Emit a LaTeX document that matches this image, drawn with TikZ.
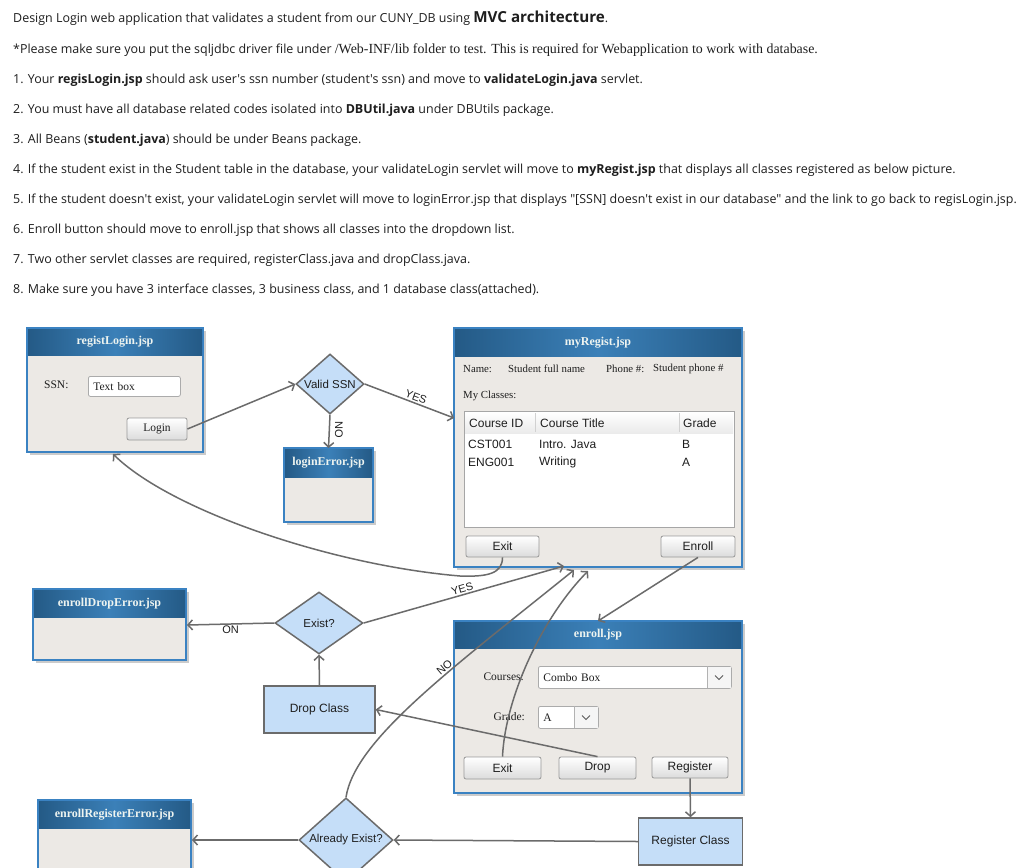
\documentclass[tikz,border=0pt]{standalone}
\usepackage{fontspec}
\setmainfont{Liberation Serif}
\newfontfamily\osans{Open Sans}
\newfontfamily\arialf{Liberation Sans}
\usetikzlibrary{arrows.meta,shadows,shapes.geometric,calc}
\definecolor{winborder}{HTML}{3A82C2}
\definecolor{hdark}{HTML}{245A86}
\definecolor{hmid}{HTML}{3B80B8}
\definecolor{winbody}{HTML}{ECE9E5}
\definecolor{dfill}{HTML}{C5DEF8}
\definecolor{conn}{HTML}{6B6B6B}
\definecolor{ttl}{HTML}{EEF4F0}
\definecolor{txt}{HTML}{1E1E1E}
\tikzset{
  para/.style={anchor=base west, inner sep=0pt, text=txt, font=\osans\fontsize{12.45}{14}\selectfont},
  win/.style={draw=winborder, line width=2pt, fill=winbody, anchor=north west, inner sep=0pt, outer sep=0pt,
    drop shadow={shadow xshift=3pt, shadow yshift=-3pt, fill=black!45, opacity=0.45}},
  hdr/.style={anchor=north west, inner sep=0pt, outer sep=0pt, left color=hdark, right color=hdark, middle color=hmid,
    text=ttl, font=\fontsize{12}{14}\selectfont\bfseries},
  lab/.style={anchor=west, inner sep=0pt, text=txt, font=\fontsize{11.5}{13}\selectfont},
  labs/.style={anchor=west, inner sep=0pt, text=txt, font=\fontsize{10.8}{12}\selectfont},
  cell/.style={anchor=west, inner sep=0pt, text=txt, font=\arialf\fontsize{12}{14}\selectfont},
  tbox/.style={anchor=north west, draw=black!33, fill=white, rounded corners=2pt, line width=0.8pt,
    minimum height=20pt, inner xsep=5pt, inner ysep=0pt, align=left, text=txt, font=\fontsize{11.5}{13}\selectfont},
  btn/.style={draw=black!40, line width=0.8pt, rounded corners=2pt, top color=white, bottom color=black!14,
    inner sep=0pt, text=txt, font=\arialf\fontsize{12}{14}\selectfont},
  sbtn/.style={btn, font=\fontsize{11.5}{13}\selectfont},
  chev/.style={draw=black!65, line width=0.8pt},
  dia/.style={diamond, draw=black!58, line width=1.5pt, fill=dfill, inner sep=0pt, text=txt,
    font=\arialf\fontsize{11.5}{13}\selectfont},
  proc/.style={rectangle, draw=black!58, line width=1.5pt, fill=dfill, inner sep=0pt, text=txt,
    font=\arialf\fontsize{12}{14}\selectfont},
  conn/.style={draw=conn, line width=1.5pt, -{Straight Barb[length=4.5pt,width=10pt]}},
  lbl/.style={inner sep=1.5pt, text=txt, font=\arialf\fontsize{11}{13}\selectfont},
}
\newcommand\mkwin[7]{%
  \node[win, minimum width=#4pt, minimum height=#5pt] (#1) at (#2,#3) {};
  \node[hdr, minimum width=#4pt-2pt, minimum height=#6pt-1pt] (#1h) at ($(#1.north west)+(1,1)$) {#7};
}
\begin{document}
\begin{tikzpicture}[x=1pt,y=-1pt]
\useasboundingbox (0,0) rectangle (1024,867);
\clip (0,0) rectangle (1024,867);
\fill[white] (0,0) rectangle (1024,867);

% ---------- instructions ----------
\node[para] (t1) at (13,23) {Design Login web application that validates a student from our CUNY\_DB using {\fontsize{15.2}{17}\selectfont\bfseries MVC architecture}.};
\node[para] (t2) at (13,53) {*Please make sure you put the sqljdbc driver file under {\rmfamily\fontsize{13.9}{15}\selectfont /Web-INF/lib folder to test. This is required for Webapplication to work with database.}};
\node[para] (t3) at (13,83) {1. Your \textbf{regisLogin.jsp} should ask user's ssn number (student's ssn) and move to \textbf{validateLogin.java} servlet.};
\node[para] (t4) at (13,113) {2. You must have all database related codes isolated into \textbf{DBUtil.java} under DBUtils package.};
\node[para] (t5) at (13,143) {3. All Beans (\textbf{student.java}) should be under Beans package.};
\node[para] (t6) at (13,173) {4. If the student exist in the Student table in the database, your validateLogin servlet will move to \textbf{myRegist.jsp} that displays all classes registered as below picture.};
\node[para] (t7) at (13,203) {5. If the student doesn't exist, your validateLogin servlet will move to loginError.jsp that displays "[SSN] doesn't exist in our database" and the link to go back to regisLogin.jsp.};
\node[para] (t8) at (13,233) {6. Enroll button should move to enroll.jsp that shows all classes into the dropdown list.};
\node[para] (t9) at (13,263) {7. Two other servlet classes are required, registerClass.java and dropClass.java.};
\node[para] (t10) at (13,293) {8. Make sure you have 3 interface classes, 3 business class, and 1 database class(attached).};

% ---------- windows ----------
\mkwin{w1}{27}{328}{176}{124}{27}{registLogin.jsp}
\mkwin{w2}{284}{448}{89}{74}{29}{loginError.jsp}
\mkwin{w3}{454}{328}{288}{239}{28}{myRegist.jsp}
\mkwin{w4}{33}{589}{153}{71}{28}{enrollDropError.jsp}
\mkwin{w5}{454}{621}{288}{172}{27}{enroll.jsp}
\mkwin{w6}{38}{800}{153}{90}{28}{enrollRegisterError.jsp}

% registLogin contents
\node[lab] (ssnl) at (44,385) {SSN:};
\node[tbox, text width=82pt] (tb) at (88,376) {Text box};
\node[sbtn, minimum width=60pt, minimum height=22pt] (login) at (157,429) {Login};

% myRegist contents
\node[labs] (nm) at (463,369) {Name:};
\node[labs] (nmv) at (508,369) {Student full name};
\node[labs] (ph) at (606,369) {Phone \#:};
\node[labs] (phv) at (653,369) {Student phone \#};
\node[labs] (mc) at (463,396) {My Classes:};
\node[anchor=north west, minimum width=270pt, minimum height=116pt, fill=white, draw=black!35, line width=0.8pt, inner sep=0pt, outer sep=0pt] (tab) at (464,411) {};
\node[anchor=north west, minimum width=268pt, minimum height=21pt, top color=white, bottom color=black!8, inner sep=0pt, outer sep=0pt] (thd) at (465,412) {};
\draw[black!18, line width=0.8pt] (535,413) -- (535,432) (679,413) -- (679,432);
\node[cell] (h1) at (469,423) {Course ID};
\node[cell] (h2) at (540,423) {Course Title};
\node[cell] (h3) at (683,423) {Grade};
\node[cell] (r11) at (468,444) {CST001};
\node[cell] (r12) at (539,444) {Intro. Java};
\node[cell] (r13) at (682,444) {B};
\node[cell] (r21) at (468,462) {ENG001};
\node[cell] (r22) at (539,462) {Writing};
\node[cell] (r23) at (682,462) {A};
\node[btn, minimum width=73pt, minimum height=21pt] (mexit) at (502.5,546.5) {Exit};
\node[btn, minimum width=74pt, minimum height=21pt] (menroll) at (698,546.5) {Enroll};

% enroll contents
\node[lab, anchor=east] (crs) at (524,677) {Courses:};
\node[tbox, minimum height=22pt, text width=183pt] (combo) at (538,666) {Combo Box};
\fill[black!4] (707.5,666.5) rectangle (730.5,687.5);
\draw[black!30, line width=0.8pt] (707,666) -- (707,688);
\draw[chev] (715,675.5) -- (719,679.5) -- (723,675.5);
\node[lab, anchor=east] (grl) at (525,717) {Grade:};
\node[tbox, minimum height=22pt, text width=50pt] (grade) at (538,706) {A};
\fill[black!4] (574.5,706.5) rectangle (597.5,727.5);
\draw[black!30, line width=0.8pt] (574,706) -- (574,728);
\draw[chev] (582,715.5) -- (586,719.5) -- (590,715.5);
\node[btn, minimum width=77pt, minimum height=22pt] (eexit) at (502.5,768) {Exit};
\node[btn, minimum width=77pt, minimum height=22pt] (dropb) at (597.5,768) {Drop};
\node[btn, minimum width=76pt, minimum height=21pt] (regb) at (690,767.5) {Register};

% ---------- decisions and processes ----------
\node[dia, minimum width=68pt, minimum height=54pt] (vssn) at (330,384) {Valid SSN};
\node[dia, minimum width=88pt, minimum height=62pt] (exist) at (319,623) {Exist?};
\node[dia, minimum width=94pt, minimum height=74pt] (aexist) at (346,840) {Already Exist?};
\node[proc, minimum width=111pt, minimum height=47pt] (dropc) at (319.5,709.5) {Drop Class};
\node[proc, minimum width=104pt, minimum height=47pt] (regc) at (690.5,841.5) {Register Class};

% ---------- connectors ----------
\coordinate (mrin) at (454,418);
\coordinate (w1in) at (113,454);
\coordinate (w5in) at (598,621);
\coordinate (ar1) at (564,566);
\coordinate (ar2) at (574,570);
\coordinate (ar3) at (588,571);
\coordinate (w4in) at (187,625);
\coordinate (w6in) at (192,840);

\draw[conn] (login.east) -- (vssn.west);
\draw[conn] (vssn.east) -- node[lbl, sloped, above, pos=0.55] (lyes1) {YES} (mrin);
\draw[conn] (vssn.south) -- (w2.north);
\node[lbl, rotate=-90] (lno1) at (339,430) {NO};
\draw[conn] (mexit.south) .. controls +(0,16) and (488,577) .. (460,576) .. controls (330,565) and (170,510) .. (w1in);
\draw[conn] (menroll.south) -- (w5in);
\draw[conn] (exist.east) -- node[lbl, sloped, above, pos=0.5] (lyes2) {YES} (ar1);
\draw[conn] (exist.west) -- node[lbl, below, pos=0.5] (lon) {ON} (w4in);
\draw[conn] (dropc.north) -- (exist.south);
\draw[conn] (dropb.north) -- (dropc.east);
\draw[conn] (eexit.north) .. controls (505,700) and (540,620) .. (ar3);
\draw[conn] (regb.south) -- (regc.north);
\draw[conn] (regc.west) -- (aexist.east);
\draw[conn] (aexist.west) -- (w6in);
\draw[conn] (aexist.north) .. controls (355,740) and (450,670) .. node[lbl, sloped, above, pos=0.62] (lno2) {NO} (ar2);
\end{tikzpicture}
\end{document}
